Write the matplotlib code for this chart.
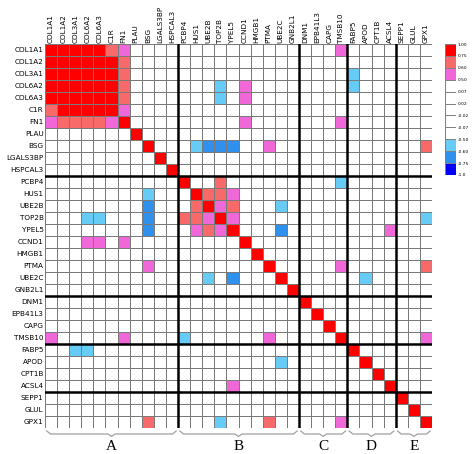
import matplotlib
matplotlib.use("Agg")
import matplotlib.pyplot as plt
import numpy as np
from matplotlib.colors import ListedColormap, BoundaryNorm

genes = ["COL1A1", "COL1A2", "COL3A1", "COL6A2", "COL6A3", "C1R", "FN1", "PLAU", "BSG",
         "LGALS3BP", "HSPCAL3", "PCBP4", "HUS1", "UBE2B", "TOP2B", "YPEL5", "CCND1", "HMGB1",
         "PTMA", "UBE2C", "GNB2L1", "DNM1", "EPB41L3", "CAPG", "TMSB10", "FABP5", "APOD",
         "CPT1B", "ACSL4", "SEPP1", "GLUL", "GPX1"]
groups = ["A", "B", "C", "D", "E"]
group_sizes = [11, 10, 4, 4, 3]

# correlation pairs (gene, gene, r); mirrored to both halves
pairs = [
    ("COL1A1", "COL1A2", 0.9), ("COL1A1", "COL3A1", 0.9), ("COL1A1", "COL6A2", 0.9),
    ("COL1A1", "COL6A3", 0.9), ("COL1A2", "COL3A1", 0.9), ("COL1A2", "COL6A2", 0.9),
    ("COL1A2", "COL6A3", 0.9), ("COL3A1", "COL6A2", 0.9), ("COL3A1", "COL6A3", 0.9),
    ("COL6A2", "COL6A3", 0.9), ("COL1A1", "C1R", 0.7), ("COL1A2", "C1R", 0.85),
    ("COL3A1", "C1R", 0.85), ("COL6A2", "C1R", 0.85), ("COL6A3", "C1R", 0.85),
    ("COL1A1", "FN1", 0.55), ("COL1A2", "FN1", 0.7), ("COL3A1", "FN1", 0.7),
    ("COL6A2", "FN1", 0.7), ("COL6A3", "FN1", 0.7), ("C1R", "FN1", 0.55),
    ("COL1A1", "TMSB10", 0.55), ("FN1", "TMSB10", 0.55),
    ("COL3A1", "FABP5", -0.55), ("COL6A2", "FABP5", -0.55),
    ("COL6A2", "CCND1", 0.55), ("COL6A3", "CCND1", 0.55), ("FN1", "CCND1", 0.55),
    ("COL6A2", "TOP2B", -0.55), ("COL6A3", "TOP2B", -0.55),
    ("BSG", "HUS1", -0.55), ("BSG", "UBE2B", -0.65), ("BSG", "TOP2B", -0.65),
    ("BSG", "YPEL5", -0.65), ("BSG", "PTMA", 0.55), ("BSG", "GPX1", 0.7),
    ("PCBP4", "TOP2B", 0.7), ("PCBP4", "TMSB10", -0.55),
    ("HUS1", "UBE2B", 0.7), ("HUS1", "TOP2B", 0.7), ("HUS1", "YPEL5", 0.55),
    ("UBE2B", "TOP2B", 0.55), ("UBE2B", "YPEL5", 0.7), ("TOP2B", "YPEL5", 0.55),
    ("UBE2B", "UBE2C", -0.55), ("YPEL5", "UBE2C", -0.65),
    ("TOP2B", "GPX1", -0.55), ("YPEL5", "ACSL4", 0.55),
    ("PTMA", "TMSB10", 0.55), ("PTMA", "GPX1", 0.7), ("UBE2C", "APOD", -0.55),
    ("TMSB10", "GPX1", 0.55),
]

bounds = [-1.0, -0.75, -0.60, -0.50, -0.07, -0.02, 0.02, 0.07, 0.50, 0.60, 0.75, 1.00]
bar_labels = ["1.00", "0.75", "0.60", "0.50", "0.07", "0.02", "-0.02", "-0.07",
              "-0.50", "-0.60", "-0.75", "-1.0"]
colors = ["#0000ff", "#3090ee", "#66ccf5", "white", "white", "white", "white", "white",
          "#f068d8", "#f86a6a", "#ff0000"]

n = len(genes)
idx = {g: i for i, g in enumerate(genes)}
mat = np.zeros((n, n))
np.fill_diagonal(mat, 1.0)
for a, b, r in pairs:
    mat[idx[a], idx[b]] = r
    mat[idx[b], idx[a]] = r

cmap = ListedColormap(colors)
norm = BoundaryNorm(bounds, cmap.N)

fig = plt.figure(figsize=(4.74, 4.54), dpi=100)
ax = fig.add_axes([45 / 474, 26 / 454, 387 / 474, 384 / 454])
ax.pcolormesh(np.arange(n + 1), np.arange(n + 1), mat, cmap=cmap, norm=norm,
              edgecolor="#7a7a7a", linewidth=0.5)
ax.set_xlim(0, n)
ax.set_ylim(n, 0)
ax.set_xticks(np.arange(n) + 0.5)
ax.set_xticklabels(genes, rotation=90, fontsize=5.2)
ax.set_yticks(np.arange(n) + 0.5)
ax.set_yticklabels(genes, fontsize=5.2)
ax.xaxis.tick_top()
ax.tick_params(length=0, pad=1)
for s in ax.spines.values():
    s.set_visible(False)

edges = np.cumsum(group_sizes)[:-1]
for e in edges:
    ax.axhline(e, color="black", lw=1.8)
    ax.axvline(e, color="black", lw=1.8)

# curly braces + group letters below the grid
start = 0
for g, size in zip(groups, group_sizes):
    x0, x1 = start + 0.15, start + size - 0.15
    xm = (x0 + x1) / 2
    y0, y1 = n + 0.25, n + 0.7
    ax.plot([x0, x0 + 0.3, xm - 0.3, xm, xm + 0.3, x1 - 0.3, x1],
            [y0, y1 - 0.2, y1 - 0.2, y1, y1 - 0.2, y1 - 0.2, y0],
            color="#a0a0a0", lw=0.9, clip_on=False)
    ax.text(xm, n + 1.0, g, ha="center", va="top", fontsize=11,
            family="Liberation Serif", clip_on=False)
    start += size

# discrete colour bar
cax = fig.add_axes([445 / 474, (454 - 175) / 454, 11 / 474, 131 / 454])
nb = len(colors)
cax.pcolormesh([0, 1], np.arange(nb + 1), np.arange(nb).reshape(-1, 1),
               cmap=cmap, edgecolor="#808080", linewidth=0.5)
cax.set_xlim(0, 1)
cax.set_ylim(0, nb)
cax.set_xticks([])
cax.set_yticks(np.arange(nb + 1))
cax.set_yticklabels(bar_labels[::-1], fontsize=3.2)
cax.yaxis.tick_right()
cax.tick_params(length=0, pad=1)
for s in cax.spines.values():
    s.set_visible(False)

fig.savefig("out.png", dpi=100)
